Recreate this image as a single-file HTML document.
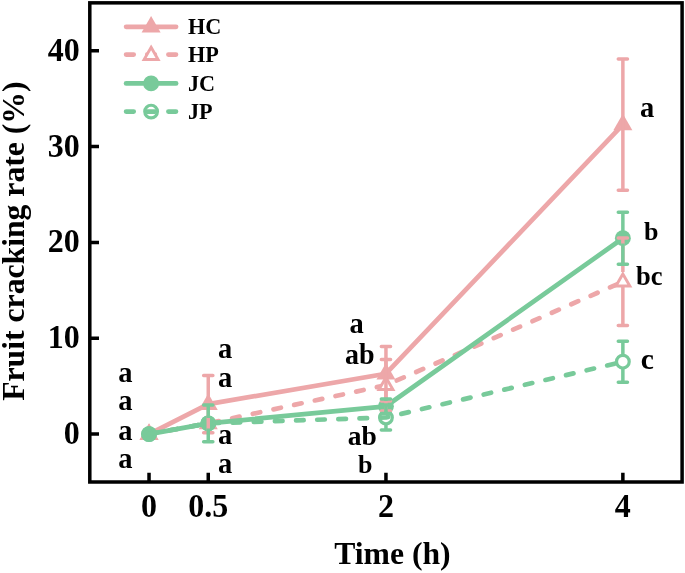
<!DOCTYPE html>
<html lang="en"><head><meta charset="utf-8"><title>Fruit cracking rate</title>
<style>html,body{margin:0;padding:0;background:#fff}body{width:685px;height:573px;overflow:hidden}svg{display:block}text{font-family:"Liberation Serif",serif;font-weight:bold;fill:#000}.tk{font-size:32px}.lg{font-size:22.2px}.ax{font-size:31.7px}</style></head><body>
<svg width="685" height="573" viewBox="0 0 685 573">
<rect width="685" height="573" fill="#fff"/>
<g id="hc"><polyline points="149.03,434.08 208.26,404.09 385.95,373.71 622.87,124.55" fill="none" stroke="#EDA7A9" stroke-width="4.7" stroke-linecap="round" stroke-linejoin="round"/>
<polygon points="149.03,423.38 158.53,439.88 139.53,439.88" fill="#EDA7A9"/>
<polygon points="208.26,393.39 217.76,409.89 198.76,409.89" fill="#EDA7A9"/>
<polygon points="385.95,363.01 395.45,379.51 376.45,379.51" fill="#EDA7A9"/>
<polygon points="622.87,113.85 632.37,130.35 613.37,130.35" fill="#EDA7A9"/>
</g>
<g id="hp"><polyline points="149.03,434.08 208.26,423.35 385.95,385.21 622.87,281.72" fill="none" stroke="#EDA7A9" stroke-width="4.7" stroke-linecap="round" stroke-linejoin="round" stroke-dasharray="7.6 13.55"/>
<polygon points="149.03,426.28 156.02,438.44 142.04,438.44" fill="#fff" stroke="#EDA7A9" stroke-width="2.9" stroke-linejoin="miter"/>
<polygon points="208.26,415.55 215.25,427.70 201.27,427.70" fill="#fff" stroke="#EDA7A9" stroke-width="2.9" stroke-linejoin="miter"/>
<polygon points="385.95,377.41 392.94,389.56 378.96,389.56" fill="#fff" stroke="#EDA7A9" stroke-width="2.9" stroke-linejoin="miter"/>
<polygon points="622.87,273.92 629.86,286.07 615.88,286.07" fill="#fff" stroke="#EDA7A9" stroke-width="2.9" stroke-linejoin="miter"/>
</g>
<g id="jc"><polyline points="149.03,434.08 208.26,423.35 385.95,406.29 622.87,238.21" fill="none" stroke="#78CA9A" stroke-width="4.7" stroke-linecap="round" stroke-linejoin="round"/>
<circle cx="149.03" cy="434.08" r="7.95" fill="#78CA9A"/>
<circle cx="208.26" cy="423.35" r="7.95" fill="#78CA9A"/>
<circle cx="385.95" cy="406.29" r="7.95" fill="#78CA9A"/>
<circle cx="622.87" cy="238.21" r="7.95" fill="#78CA9A"/>
</g>
<g id="jp"><polyline points="149.03,434.08 208.26,423.35 385.95,417.51 622.87,361.73" fill="none" stroke="#78CA9A" stroke-width="4.7" stroke-linecap="round" stroke-linejoin="round" stroke-dasharray="7.6 13.55"/>
<circle cx="149.03" cy="434.08" r="6.35" fill="none" stroke="#78CA9A" stroke-width="3.2"/>
<circle cx="208.26" cy="423.35" r="6.35" fill="none" stroke="#78CA9A" stroke-width="3.2"/>
<circle cx="385.95" cy="417.51" r="6.35" fill="none" stroke="#78CA9A" stroke-width="3.2"/>
<circle cx="622.87" cy="361.73" r="6.35" fill="none" stroke="#78CA9A" stroke-width="3.2"/>
</g>
<g id="err">

<path d="M208.26,375.44V432.74" stroke="#EDA7A9" stroke-width="3.5" fill="none"/><path d="M203.66,375.44h9.20M203.66,432.74h9.20" stroke="#EDA7A9" stroke-width="3.5" stroke-linecap="round" fill="none"/>
<path d="M385.95,346.50V400.93" stroke="#EDA7A9" stroke-width="3.5" fill="none"/><path d="M381.35,346.50h9.20M381.35,400.93h9.20" stroke="#EDA7A9" stroke-width="3.5" stroke-linecap="round" fill="none"/>
<path d="M622.87,58.91V190.20" stroke="#EDA7A9" stroke-width="3.5" fill="none"/><path d="M618.27,58.91h9.20M618.27,190.20h9.20" stroke="#EDA7A9" stroke-width="3.5" stroke-linecap="round" fill="none"/>


<path d="M385.95,359.53V375.51M385.95,390.01V410.89" stroke="#EDA7A9" stroke-width="3.5" fill="none"/><path d="M381.35,359.53h9.20M381.35,410.89h9.20" stroke="#EDA7A9" stroke-width="3.5" stroke-linecap="round" fill="none"/>
<path d="M622.87,237.92V272.02M622.87,286.52V325.51" stroke="#EDA7A9" stroke-width="3.5" fill="none"/><path d="M618.27,237.92h9.20M618.27,325.51h9.20" stroke="#EDA7A9" stroke-width="3.5" stroke-linecap="round" fill="none"/>

<path d="M208.26,404.95V418.10M208.26,428.60V441.75" stroke="#78CA9A" stroke-width="3.5" fill="none"/><path d="M203.66,404.95h9.20M203.66,441.75h9.20" stroke="#78CA9A" stroke-width="3.5" stroke-linecap="round" fill="none"/>
<path d="M385.95,399.01V401.04M385.95,411.54V413.58" stroke="#78CA9A" stroke-width="3.5" fill="none"/><path d="M381.35,399.01h9.20M381.35,413.58h9.20" stroke="#78CA9A" stroke-width="3.5" stroke-linecap="round" fill="none"/>
<path d="M622.87,212.24V232.96M622.87,243.46V264.18" stroke="#78CA9A" stroke-width="3.5" fill="none"/><path d="M618.27,212.24h9.20M618.27,264.18h9.20" stroke="#78CA9A" stroke-width="3.5" stroke-linecap="round" fill="none"/>


<path d="M385.95,405.05V411.91M385.95,423.11V429.96" stroke="#78CA9A" stroke-width="3.5" fill="none"/><path d="M381.35,405.05h9.20M381.35,429.96h9.20" stroke="#78CA9A" stroke-width="3.5" stroke-linecap="round" fill="none"/>
<path d="M622.87,341.32V356.13M622.87,367.33V382.15" stroke="#78CA9A" stroke-width="3.5" fill="none"/><path d="M618.27,341.32h9.20M618.27,382.15h9.20" stroke="#78CA9A" stroke-width="3.5" stroke-linecap="round" fill="none"/>
</g>
<rect x="89.8" y="2.85" width="592.30" height="479.15" fill="none" stroke="#000" stroke-width="3.5"/>
<path d="M89.8,434.08h9.2M89.8,338.25h9.2M89.8,242.43h9.2M89.8,146.60h9.2M89.8,50.76h9.2M149.03,482.0v-9.2M208.26,482.0v-9.2M385.95,482.0v-9.2M622.87,482.0v-9.2" stroke="#000" stroke-width="3.5" fill="none"/>
<text class="tk" transform="translate(79.8,443.98) scale(1,1.07)" text-anchor="end">0</text>
<text class="tk" transform="translate(79.8,348.15) scale(1,1.07)" text-anchor="end">10</text>
<text class="tk" transform="translate(79.8,252.33) scale(1,1.07)" text-anchor="end">20</text>
<text class="tk" transform="translate(79.8,156.50) scale(1,1.07)" text-anchor="end">30</text>
<text class="tk" transform="translate(79.8,60.66) scale(1,1.07)" text-anchor="end">40</text>
<text class="tk" transform="translate(149.03,516.7) scale(1,1.05)" text-anchor="middle">0</text>
<text class="tk" transform="translate(208.26,516.7) scale(1,1.05)" text-anchor="middle">0.5</text>
<text class="tk" transform="translate(385.95,516.7) scale(1,1.05)" text-anchor="middle">2</text>
<text class="tk" transform="translate(622.87,516.7) scale(1,1.05)" text-anchor="middle">4</text>
<text class="ax" x="392.4" y="564.1" text-anchor="middle">Time (h)</text>
<text class="ax" transform="translate(23.6,241.1) rotate(-90)" text-anchor="middle">Fruit cracking rate (%)</text>
<g id="legend">
<path d="M126.1,26.8H176.1" stroke="#EDA7A9" stroke-width="4.7" stroke-linecap="round" fill="none"/><polygon points="151.10,16.10 160.60,32.60 141.60,32.60" fill="#EDA7A9"/>
<path d="M126.1,54.6H176.1" stroke="#EDA7A9" stroke-width="4.7" stroke-linecap="round" fill="none" stroke-dasharray="7.6 13.55"/><polygon points="151.10,47.30 158.09,59.45 144.11,59.45" fill="#fff" stroke="#EDA7A9" stroke-width="2.9" stroke-linejoin="miter"/>
<path d="M126.1,83.4H176.1" stroke="#78CA9A" stroke-width="4.7" stroke-linecap="round" fill="none"/><circle cx="151.10" cy="83.40" r="7.95" fill="#78CA9A"/>
<path d="M126.1,111.6H176.1" stroke="#78CA9A" stroke-width="4.7" stroke-linecap="round" fill="none" stroke-dasharray="7.6 13.55"/><circle cx="151.10" cy="111.60" r="6.35" fill="none" stroke="#78CA9A" stroke-width="3.2"/>
<text class="lg" x="188" y="34.10">HC</text>
<text class="lg" x="188" y="61.90">HP</text>
<text class="lg" x="188" y="90.70">JC</text>
<text class="lg" x="188" y="118.90">JP</text>
</g>
<g id="letters">
<text transform="translate(118.2,381.6) scale(1,1.05)" font-size="28.5">a</text>
<text transform="translate(118.2,410.1) scale(1,1.05)" font-size="28.5">a</text>
<text transform="translate(118.2,439.6) scale(1,1.05)" font-size="28.5">a</text>
<text transform="translate(118.2,468.4) scale(1,1.05)" font-size="28.5">a</text>
<text transform="translate(217.9,358.3) scale(1,1.05)" font-size="28.5">a</text>
<text transform="translate(217.9,386.6) scale(1,1.05)" font-size="28.5">a</text>
<text transform="translate(217.9,443.5) scale(1,1.05)" font-size="28.5">a</text>
<text transform="translate(217.9,473.3) scale(1,1.05)" font-size="28.5">a</text>
<text transform="translate(349.5,333.4) scale(1,1.05)" font-size="28.5">a</text>
<text transform="translate(345,363.6) scale(1,1.03)" font-size="28">ab</text>
<text transform="translate(347.7,445.2) scale(1,1.0)" font-size="27.5">ab</text>
<text transform="translate(358,472.6) scale(1,1.0)" font-size="26">b</text>
<text transform="translate(640,117.4) scale(1,1.05)" font-size="28.5">a</text>
<text transform="translate(644,239.9) scale(1,1.0)" font-size="26">b</text>
<text transform="translate(635.9,284.7) scale(1,1.0)" font-size="26.5">bc</text>
<text transform="translate(640.7,369) scale(1,1.0)" font-size="29.5">c</text>
</g>
</svg></body></html>
